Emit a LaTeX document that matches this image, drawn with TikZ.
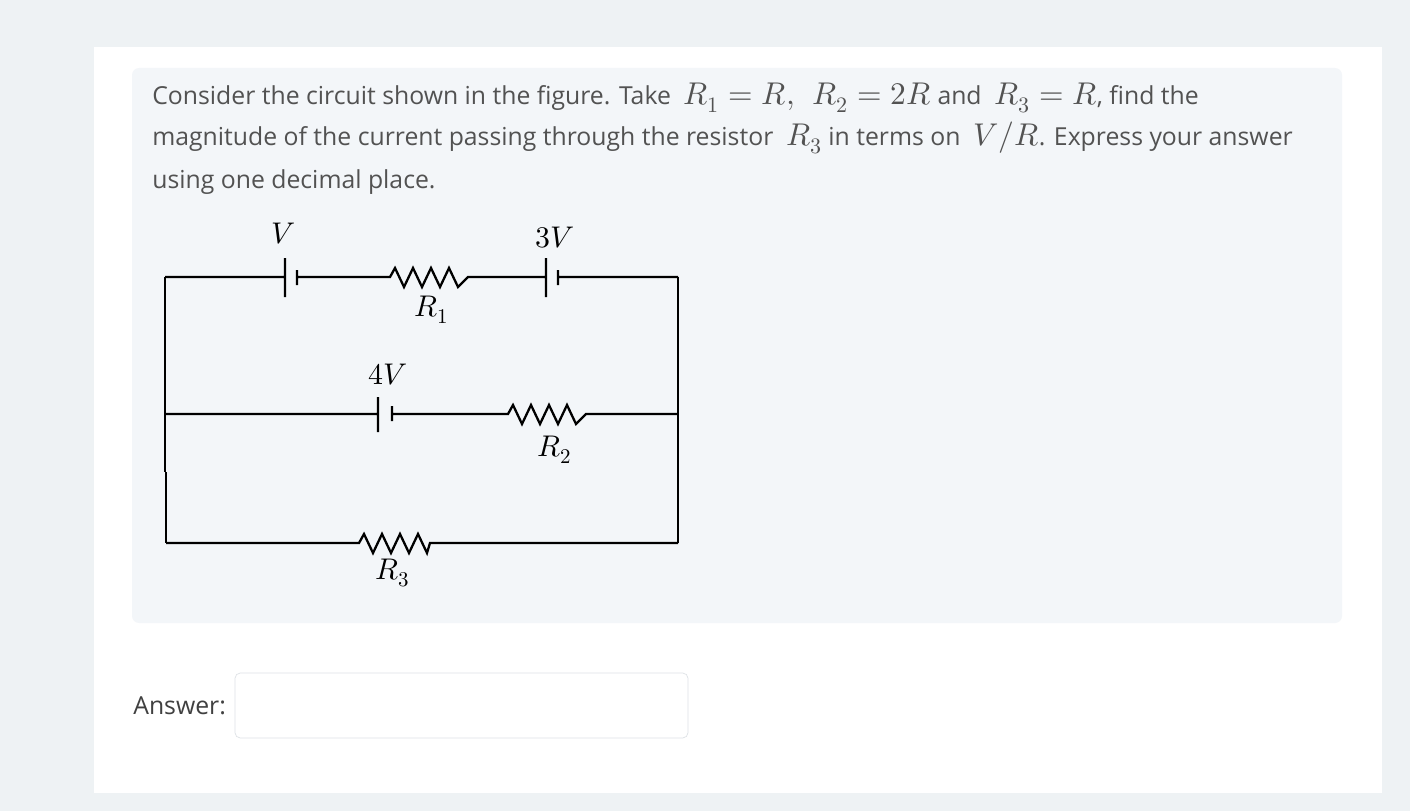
\documentclass[tikz,border=0pt]{standalone}
\usepackage{fontspec}
\setmainfont{Open Sans}
\usepackage{unicode-math}
\setmathfont{Latin Modern Math}[Scale=1.27]
\begin{document}
\begin{tikzpicture}[x=0.02cm,y=-0.02cm,
  wire/.style={line width=1.3pt,black},
  txt/.style={anchor=base west,inner sep=0,text=black!68,font=\fontsize{14.1}{15}\selectfont},
  lab/.style={inner sep=0,font=\fontsize{13.4}{15}\selectfont}]
\fill[fill={rgb,255:red,238;green,242;blue,244}] (0,0) rectangle (1410,811);
\useasboundingbox (0,0) rectangle (1410,811);
\fill[white] (94,47) rectangle (1382,793);
\fill[fill={rgb,255:red,243;green,246;blue,249},rounded corners=4] (132,68) rectangle (1342,623);
\node[txt] (l1) at (152,105) {Consider the circuit shown in the figure. Take \ $R_1=R,\ \ R_2=2R$ and \ $R_3=R$, find the};
\node[txt] (l2) at (152,146) {magnitude of the current passing through the resistor \ $R_3$ in terms on \ $V/R$. Express your answer};
\node[txt] (l3) at (152,188) {using one decimal place.};
\node[txt,text=black!75] (ans) at (133,714) {Answer:};
\draw[draw={rgb,255:red,222;green,226;blue,230},fill=white,rounded corners=3] (235,673) rectangle (688,738);
% corners
\coordinate (TL) at (165,277); \coordinate (TR) at (678,277);
\coordinate (ML) at (165,414); \coordinate (MR) at (678,414);
\coordinate (BL) at (166,543); \coordinate (BR) at (678,543);
% top branch
\draw[wire] (TL) -- (285,277) (285,258) -- (285,297) (297,270) -- (297,285) (297,277) -- (390,277)
  -- ++(5,-9) -- ++(9,19) -- ++(9,-19) -- ++(9,19) -- ++(9,-19) -- ++(9,19) -- ++(9,-19) -- ++(9,19) -- (468,277) -- (546,277)
  (546,258) -- (546,297) (558,270) -- (558,285) (558,277) -- (TR);
% middle
\draw[wire] (ML) -- (378,414) (378,397) -- (378,432) (392,406) -- (392,421) (392,414) -- (508,414)
  -- ++(5,-9) -- ++(9,19) -- ++(9,-19) -- ++(9,19) -- ++(9,-19) -- ++(9,19) -- ++(9,-19) -- ++(9,19) -- (586,414) -- (MR);
% bottom
\draw[wire] (BL) -- (359,543) -- ++(5,-9) -- ++(9,19) -- ++(9,-19) -- ++(9,19) -- ++(9,-19) -- ++(9,19) -- ++(9,-19) -- ++(9,19) -- (430,543) -- (BR);
\draw[wire] (TL) -- (165,472) (166,472) -- (BL);
\draw[wire] (TR) -- (BR);
\node[lab] (lv) at (283,234) {$V$};
\node[lab] (l3v) at (555,238) {$3V$};
\node[lab] (lr1) at (432,310) {$R_1$};
\node[lab] (l4v) at (388,375) {$4V$};
\node[lab] (lr2) at (555,450) {$R_2$};
\node[lab] (lr3) at (393,573) {$R_3$};
\end{tikzpicture}
\end{document}
